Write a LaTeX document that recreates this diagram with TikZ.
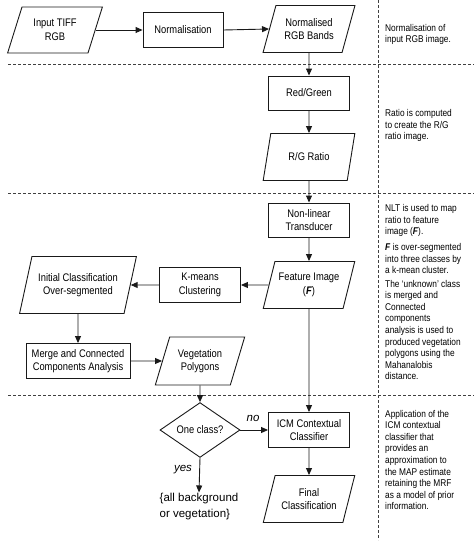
\documentclass[tikz,border=0pt]{standalone}
\usepackage{fontspec}
\setmainfont[FakeStretch=0.85]{Liberation Sans}
\newfontfamily\plainsans{Liberation Sans}
\usetikzlibrary{shapes.geometric,arrows.meta}
\newcommand\mainfs{\fontsize{11}{13.5}\selectfont}
\newcommand\notefs{\fontsize{9.8}{11.6}\selectfont}
\newcommand\bif[1]{\textbf{\textit{#1}}}
\begin{document}
\begin{tikzpicture}[x=1pt,y=-1pt,
  box/.style={draw=black!90, line width=0.9pt, rectangle, minimum width=81pt, minimum height=35pt, inner sep=1pt, align=center, font=\mainfs},
  para/.style={draw=black!90, line width=0.9pt, trapezium, trapezium left angle=67, trapezium right angle=113, trapezium stretches=true, minimum width=92pt, minimum height=47pt, inner sep=1pt, align=center, font=\mainfs},
  dec/.style={draw=black!90, line width=0.9pt, diamond, minimum width=80pt, minimum height=46pt, inner sep=0pt, align=center, font=\mainfs},
  note/.style={anchor=west, align=left, inner sep=2pt, font=\notefs},
  lbl/.style={inner sep=1pt, font=\plainsans\itshape\fontsize{11.5}{14}\selectfont},
  arr/.style={draw=black!90, line width=0.9pt, -{Triangle[length=7pt,width=6pt]}},
  divider/.style={draw=black!75, line width=0.7pt, dash pattern=on 3pt off 2pt}
]
\useasboundingbox (0,0) rectangle (474,543);

% dividers
\draw[divider] (8,64.5) -- (474,64.5);
\draw[divider] (8,193) -- (474,193);
\draw[divider] (8,395.5) -- (474,395.5);
\draw[divider] (378,0) -- (378,540);

% nodes
\node[para, minimum width=95pt, minimum height=46pt] (in) at (55,30) {Input TIFF\\RGB};
\node[box, minimum width=80pt] (norm) at (183,30) {Normalisation};
\node[para] (nrgb) at (309,29) {Normalised\\RGB Bands};
\node[box, minimum height=34pt] (rg) at (309,93) {Red/Green};
\node[para] (rgr) at (309,157) {R/G Ratio};
\node[box, minimum height=34pt] (nlt) at (309,220) {Non-linear\\Transducer};
\node[para] (feat) at (309,285) {Feature Image\\(\bif{F})};
\node[box] (km) at (200,285) {K-means\\Clustering};
\node[para, minimum width=117pt, minimum height=57pt] (init) at (78,285) {Initial Classification\\Over-segmented};
\node[box, minimum width=104pt] (merge) at (78,361) {Merge and Connected\\Components Analysis};
\node[para, minimum width=90pt, minimum height=48pt] (veg) at (200,361) {Vegetation\\Polygons};
\node[dec] (one) at (200,430) {One class?};
\node[box] (icm) at (309,430) {ICM Contextual\\Classifier};
\node[para] (fin) at (309,499) {Final\\Classification};
\node[inner sep=1pt, align=left, font=\plainsans\fontsize{11.5}{16}\selectfont] (bg) at (199,507) {\{all background\\or vegetation\}};

\node[lbl] (no) at (253,418) {no};
\node[lbl] (yes) at (183,470) {yes};

% connectors
\draw[arr] (in.east) -- (norm.west);
\draw[arr] (norm.east) -- (nrgb.west);
\draw[arr] (nrgb.south) -- (rg.north);
\draw[arr] (rg.south) -- (rgr.north);
\draw[arr] (rgr.south) -- (nlt.north);
\draw[arr] (nlt.south) -- (feat.north);
\draw[arr] (feat.west) -- (km.east);
\draw[arr] (km.west) -- (init.east);
\draw[arr] (init.south) -- (merge.north);
\draw[arr] (merge.east) -- (veg.west);
\draw[arr] (veg.south) -- (one.north);
\draw[arr] (one.east) -- (icm.west);
\draw[arr] (feat.south) -- (icm.north);
\draw[arr] (icm.south) -- (fin.north);
\draw[arr] (one.south) -- (bg.north);

% notes
\node[note] (n1) at (383,34.5) {Normalisation of\\input RGB image.};
\node[note] (n2) at (383,125.5) {Ratio is computed\\to create the R/G\\ratio image.};
\node[note] (n3) at (383,220.5) {NLT is used to map\\ratio to feature\\image (\bif{F}).};
\node[note] (n4) at (383,258.5) {\bif{F} is over-segmented\\into three classes by\\a k-mean cluster.};
\node[note] (n5) at (383,330) {The ‘unknown’ class\\is merged and\\Connected\\components\\analysis is used to\\produced vegetation\\polygons using the\\Mahanalobis\\distance.};
\node[note] (n6) at (383,460) {Application of the\\ICM contextual\\classifier that\\provides an\\approximation to\\the MAP estimate\\retaining the MRF\\as a model of prior\\information.};
\end{tikzpicture}
\end{document}
